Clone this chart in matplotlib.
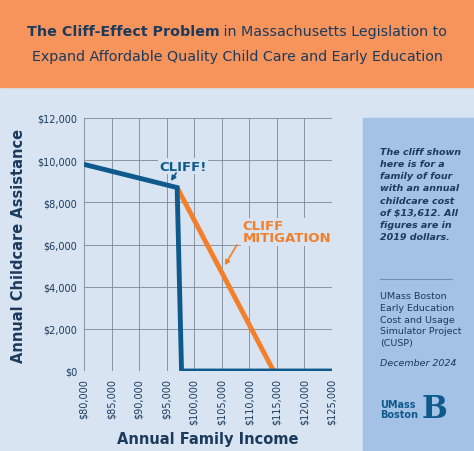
import matplotlib
matplotlib.use("Agg")
import matplotlib.pyplot as plt
from matplotlib.patches import Rectangle

cliff_x = [80000, 96900, 97700, 125000]
cliff_y = [9800, 8700, 0, 0]
mit_x = [96900, 114400]
mit_y = [8700, 0]
xticks = list(range(80000, 125001, 5000))
yticks = list(range(0, 12001, 2000))

W, H = 474, 452
fig = plt.figure(figsize=(W/100, H/100), dpi=100)
fig.patch.set_facecolor("#D8E4F2")
navy = "#1B3A5C"
blue = "#0F5A8C"
orange = "#F47F2A"

def fx(px): return px / W
def fy(py): return 1 - py / H

fig.patches.append(Rectangle((0, fy(88)), 1, 88/H, transform=fig.transFigure, color="#F7945C", zorder=0))
t1 = fig.text(0, fy(32), "The Cliff-Effect Problem", ha="left", va="center", fontsize=10.3, weight="bold", color=navy)
t2 = fig.text(0, fy(32), " in Massachusetts Legislation to", ha="left", va="center", fontsize=10.3, color=navy)
fig.canvas.draw()
w1 = t1.get_window_extent().width
w2 = t2.get_window_extent().width
x0 = (W - w1 - w2) / 2
t1.set_x(x0 / W)
t2.set_x((x0 + w1) / W)
fig.text(0.5, fy(57), "Expand Affordable Quality Child Care and Early Education", ha="center", va="center", fontsize=10.3, color=navy)

fig.patches.append(Rectangle((fx(363), 0), 1 - fx(363), fy(119), transform=fig.transFigure, color="#A4C2E6", zorder=0))
fig.text(fx(380), fy(148), "The cliff shown\nhere is for a\nfamily of four\nwith an annual\nchildcare cost\nof $13,612. All\nfigures are in\n2019 dollars.",
         ha="left", va="top", fontsize=6.8, style="italic", weight="bold", color=navy, linespacing=1.45)
fig.add_artist(plt.Line2D([fx(380), fx(452)], [fy(280), fy(280)], color="#6F8FB8", lw=0.8))
fig.text(fx(380), fy(292), "UMass Boston\nEarly Education\nCost and Usage\nSimulator Project\n(CUSP)",
         ha="left", va="top", fontsize=6.8, color=navy, linespacing=1.4)
fig.text(fx(380), fy(364), "December 2024", ha="left", va="center", fontsize=6.8, style="italic", color=navy)
fig.text(fx(380), fy(410), "UMass\nBoston", ha="left", va="center", fontsize=7, weight="bold", color=blue, linespacing=0.9)
fig.text(fx(434), fy(410), "B", ha="center", va="center", fontsize=22, weight="bold", color=blue, family="DejaVu Serif")

ax = fig.add_axes([fx(84), fy(372), fx(332) - fx(84), (372 - 119) / H])
ax.set_facecolor("#D8E4F2")
ax.set_xlim(80000, 125000)
ax.set_ylim(0, 12000)
ax.set_xticks(xticks)
ax.set_yticks(yticks)
ax.set_xticklabels([f"${v:,}" for v in xticks], rotation=90, fontsize=7, color=navy)
ax.set_yticklabels([f"${v:,}" for v in yticks], fontsize=7, color=navy)
ax.grid(True, color="#7C8894", lw=0.6)
for s in ax.spines.values():
    s.set_visible(False)
ax.tick_params(length=0, pad=5)
ax.set_xlabel("Annual Family Income", fontsize=10.5, weight="bold", color=navy, labelpad=5)
ax.set_ylabel("Annual Childcare Assistance", fontsize=10.5, weight="bold", color=navy, labelpad=8)
ax.plot(mit_x, mit_y, color=orange, lw=3.5, solid_capstyle="butt", zorder=3)
ax.plot(cliff_x, cliff_y, color=blue, lw=3.5, solid_joinstyle="miter", zorder=4)
ax.text(98000, 9400, "CLIFF!", ha="center", va="bottom", fontsize=9.5, weight="bold", color=blue,
        bbox=dict(fc="#D8E4F2", ec="none", pad=1))
ax.annotate("", xy=(95500, 8900), xytext=(97000, 9500), arrowprops=dict(arrowstyle="-|>", color=blue, lw=1.2, mutation_scale=7))
ax.text(108800, 6000, "CLIFF\nMITIGATION", ha="left", va="bottom", fontsize=9.5, weight="bold", color=orange,
        linespacing=0.95, bbox=dict(fc="#D8E4F2", ec="none", pad=1))
ax.annotate("", xy=(105300, 4900), xytext=(108000, 6100), arrowprops=dict(arrowstyle="-|>", color=orange, lw=1.2, mutation_scale=7))

fig.savefig("out.png", dpi=100, facecolor=fig.get_facecolor())
